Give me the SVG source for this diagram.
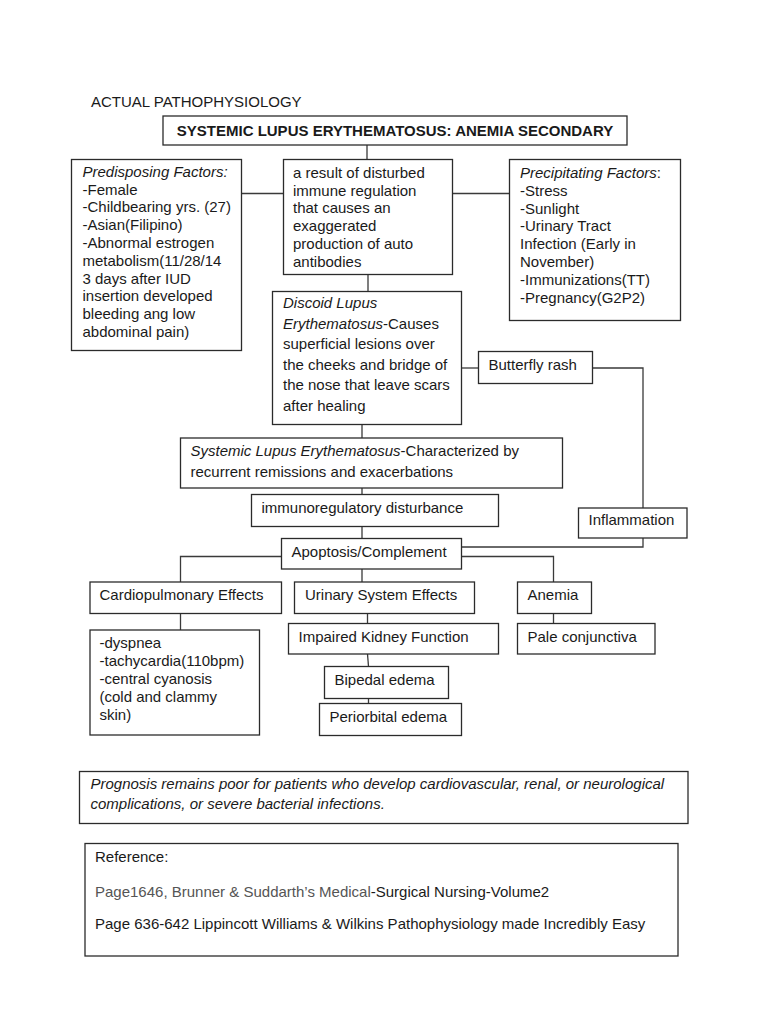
<svg xmlns="http://www.w3.org/2000/svg" width="768" height="1024" viewBox="0 0 768 1024">
<style>
  text { font-family: "Liberation Sans", Arial, Helvetica, sans-serif; font-size: 15px; fill: #1a1a1a; }
  .it { font-style: italic; }
  .b { font-weight: bold; }
  .box { fill: #ffffff; stroke: #2b2b2b; stroke-width: 1.3; }
  .con { fill: none; stroke: #3a3a3a; stroke-width: 1.3; }
  .gray { fill: #555555; }
</style>
<rect width="768" height="1024" fill="#ffffff"/>

<g id="connectors">
  <path class="con" d="M367,145 V160"/>
  <path class="con" d="M241.5,193.5 H283.5"/>
  <path class="con" d="M452.5,193.5 H509.5"/>
  <path class="con" d="M368,274.5 V291.5"/>
  <path class="con" d="M461.5,368 H478.5"/>
  <path class="con" d="M592.5,368 H643 V508"/>
  <path class="con" d="M643,538 V547 H461.5"/>
  <path class="con" d="M362,424.5 V438"/>
  <path class="con" d="M362,488 V494.5"/>
  <path class="con" d="M362,526.5 V538.5"/>
  <path class="con" d="M281.5,556.5 H180.5 V582"/>
  <path class="con" d="M362,569 V582"/>
  <path class="con" d="M461.5,556.5 H553.5 V582"/>
  <path class="con" d="M180.5,613.5 V630"/>
  <path class="con" d="M367.5,613.5 V623.5"/>
  <path class="con" d="M367.5,654 L368.5,666.5"/>
  <path class="con" d="M368.5,698.5 V703.5"/>
  <path class="con" d="M553.5,613.5 V623.5"/>
</g>

<g id="heading">
  <text x="91" y="107">ACTUAL PATHOPHYSIOLOGY</text>
</g>

<g id="title">
  <rect class="box" x="163" y="116" width="464" height="29"/>
  <text class="b" x="395" y="136" text-anchor="middle">SYSTEMIC LUPUS ERYTHEMATOSUS: ANEMIA SECONDARY</text>
</g>

<g id="predisposing">
  <rect class="box" x="71.5" y="159.5" width="170" height="191"/>
  <text x="82.5" y="176.7"><tspan class="it">Predisposing Factors:</tspan>
    <tspan x="82.5" dy="17.8">-Female</tspan>
    <tspan x="82.5" dy="17.8">-Childbearing yrs. (27)</tspan>
    <tspan x="82.5" dy="17.8">-Asian(Filipino)</tspan>
    <tspan x="82.5" dy="17.8">-Abnormal estrogen</tspan>
    <tspan x="82.5" dy="17.8">metabolism(11/28/14</tspan>
    <tspan x="82.5" dy="17.8">3 days after IUD</tspan>
    <tspan x="82.5" dy="17.8">insertion developed</tspan>
    <tspan x="82.5" dy="17.8">bleeding ang low</tspan>
    <tspan x="82.5" dy="17.8">abdominal pain)</tspan></text>
</g>

<g id="immune">
  <rect class="box" x="283.5" y="159.5" width="169" height="115"/>
  <text x="293" y="177.7">a result of disturbed
    <tspan x="293" dy="17.8">immune regulation</tspan>
    <tspan x="293" dy="17.8">that causes an</tspan>
    <tspan x="293" dy="17.8">exaggerated</tspan>
    <tspan x="293" dy="17.8">production of auto</tspan>
    <tspan x="293" dy="17.8">antibodies</tspan></text>
</g>

<g id="precipitating">
  <rect class="box" x="509.5" y="159.5" width="171" height="161"/>
  <text x="520" y="178"><tspan class="it">Precipitating Factors</tspan>:
    <tspan x="520" dy="17.8">-Stress</tspan>
    <tspan x="520" dy="17.8">-Sunlight</tspan>
    <tspan x="520" dy="17.8">-Urinary Tract</tspan>
    <tspan x="520" dy="17.8">Infection (Early in</tspan>
    <tspan x="520" dy="17.8">November)</tspan>
    <tspan x="520" dy="17.8">-Immunizations(TT)</tspan>
    <tspan x="520" dy="17.8">-Pregnancy(G2P2)</tspan></text>
</g>

<g id="discoid">
  <rect class="box" x="272.5" y="291.5" width="189" height="133"/>
  <text x="283" y="308"><tspan class="it">Discoid Lupus</tspan>
    <tspan x="283" dy="20.5" class="it">Erythematosus</tspan><tspan>-Causes</tspan>
    <tspan x="283" dy="20.5">superficial lesions over</tspan>
    <tspan x="283" dy="20.5">the cheeks and bridge of</tspan>
    <tspan x="283" dy="20.5">the nose that leave scars</tspan>
    <tspan x="283" dy="20.5">after healing</tspan></text>
</g>

<g id="butterfly">
  <rect class="box" x="478.5" y="351.5" width="114" height="32"/>
  <text x="488.5" y="370">Butterfly rash</text>
</g>

<g id="sle">
  <rect class="box" x="180.5" y="438" width="382" height="50"/>
  <text x="190.5" y="456"><tspan class="it">Systemic Lupus Erythematosus</tspan>-Characterized by
    <tspan x="190.5" dy="20.5">recurrent remissions and exacerbations</tspan></text>
</g>

<g id="immunoregulatory">
  <rect class="box" x="251.5" y="494.5" width="247" height="32"/>
  <text x="261.5" y="513">immunoregulatory disturbance</text>
</g>

<g id="inflammation">
  <rect class="box" x="578.5" y="508" width="108.5" height="30"/>
  <text x="588.5" y="525">Inflammation</text>
</g>

<g id="apoptosis">
  <rect class="box" x="281.5" y="538.5" width="180" height="30.5"/>
  <text x="291.5" y="556.7">Apoptosis/Complement</text>
</g>

<g id="cardiopulmonary">
  <rect class="box" x="90" y="582" width="191.5" height="31.5"/>
  <text x="99.5" y="600">Cardiopulmonary Effects</text>
</g>

<g id="urinary">
  <rect class="box" x="294.5" y="582" width="180" height="31.5"/>
  <text x="305" y="600">Urinary System Effects</text>
</g>

<g id="anemia">
  <rect class="box" x="517.5" y="582" width="74" height="31.5"/>
  <text x="527.5" y="600">Anemia</text>
</g>

<g id="symptoms">
  <rect class="box" x="90" y="630" width="169.5" height="105"/>
  <text x="99.5" y="648.3">-dyspnea
    <tspan x="99.5" dy="17.8">-tachycardia(110bpm)</tspan>
    <tspan x="99.5" dy="17.8">-central cyanosis</tspan>
    <tspan x="99.5" dy="17.8">(cold and clammy</tspan>
    <tspan x="99.5" dy="17.8">skin)</tspan></text>
</g>

<g id="impaired">
  <rect class="box" x="288.5" y="623.5" width="210" height="30.5"/>
  <text x="298.5" y="641.7">Impaired Kidney Function</text>
</g>

<g id="pale">
  <rect class="box" x="517.5" y="623.5" width="137.5" height="30.5"/>
  <text x="527.5" y="641.7">Pale conjunctiva</text>
</g>

<g id="bipedal">
  <rect class="box" x="324.5" y="666.5" width="124" height="32"/>
  <text x="334.5" y="685">Bipedal edema</text>
</g>

<g id="periorbital">
  <rect class="box" x="319.5" y="703.5" width="142" height="32"/>
  <text x="329.5" y="722.3">Periorbital edema</text>
</g>

<g id="prognosis">
  <rect class="box" x="79.5" y="771.5" width="608.5" height="52"/>
  <text class="it" x="90.5" y="789">Prognosis remains poor for patients who develop cardiovascular, renal, or neurological
    <tspan x="90.5" dy="20">complications, or severe bacterial infections.</tspan></text>
</g>

<g id="reference">
  <rect class="box" x="85" y="843.5" width="593" height="112.5"/>
  <text x="95" y="862">Reference:</text>
  <text x="95" y="897"><tspan class="gray">Page1646, Brunner &amp; Suddarth’s Medical</tspan>-Surgical Nursing-Volume2</text>
  <text x="95" y="928.5">Page 636-642 Lippincott Williams &amp; Wilkins Pathophysiology made Incredibly Easy</text>
</g>
</svg>
